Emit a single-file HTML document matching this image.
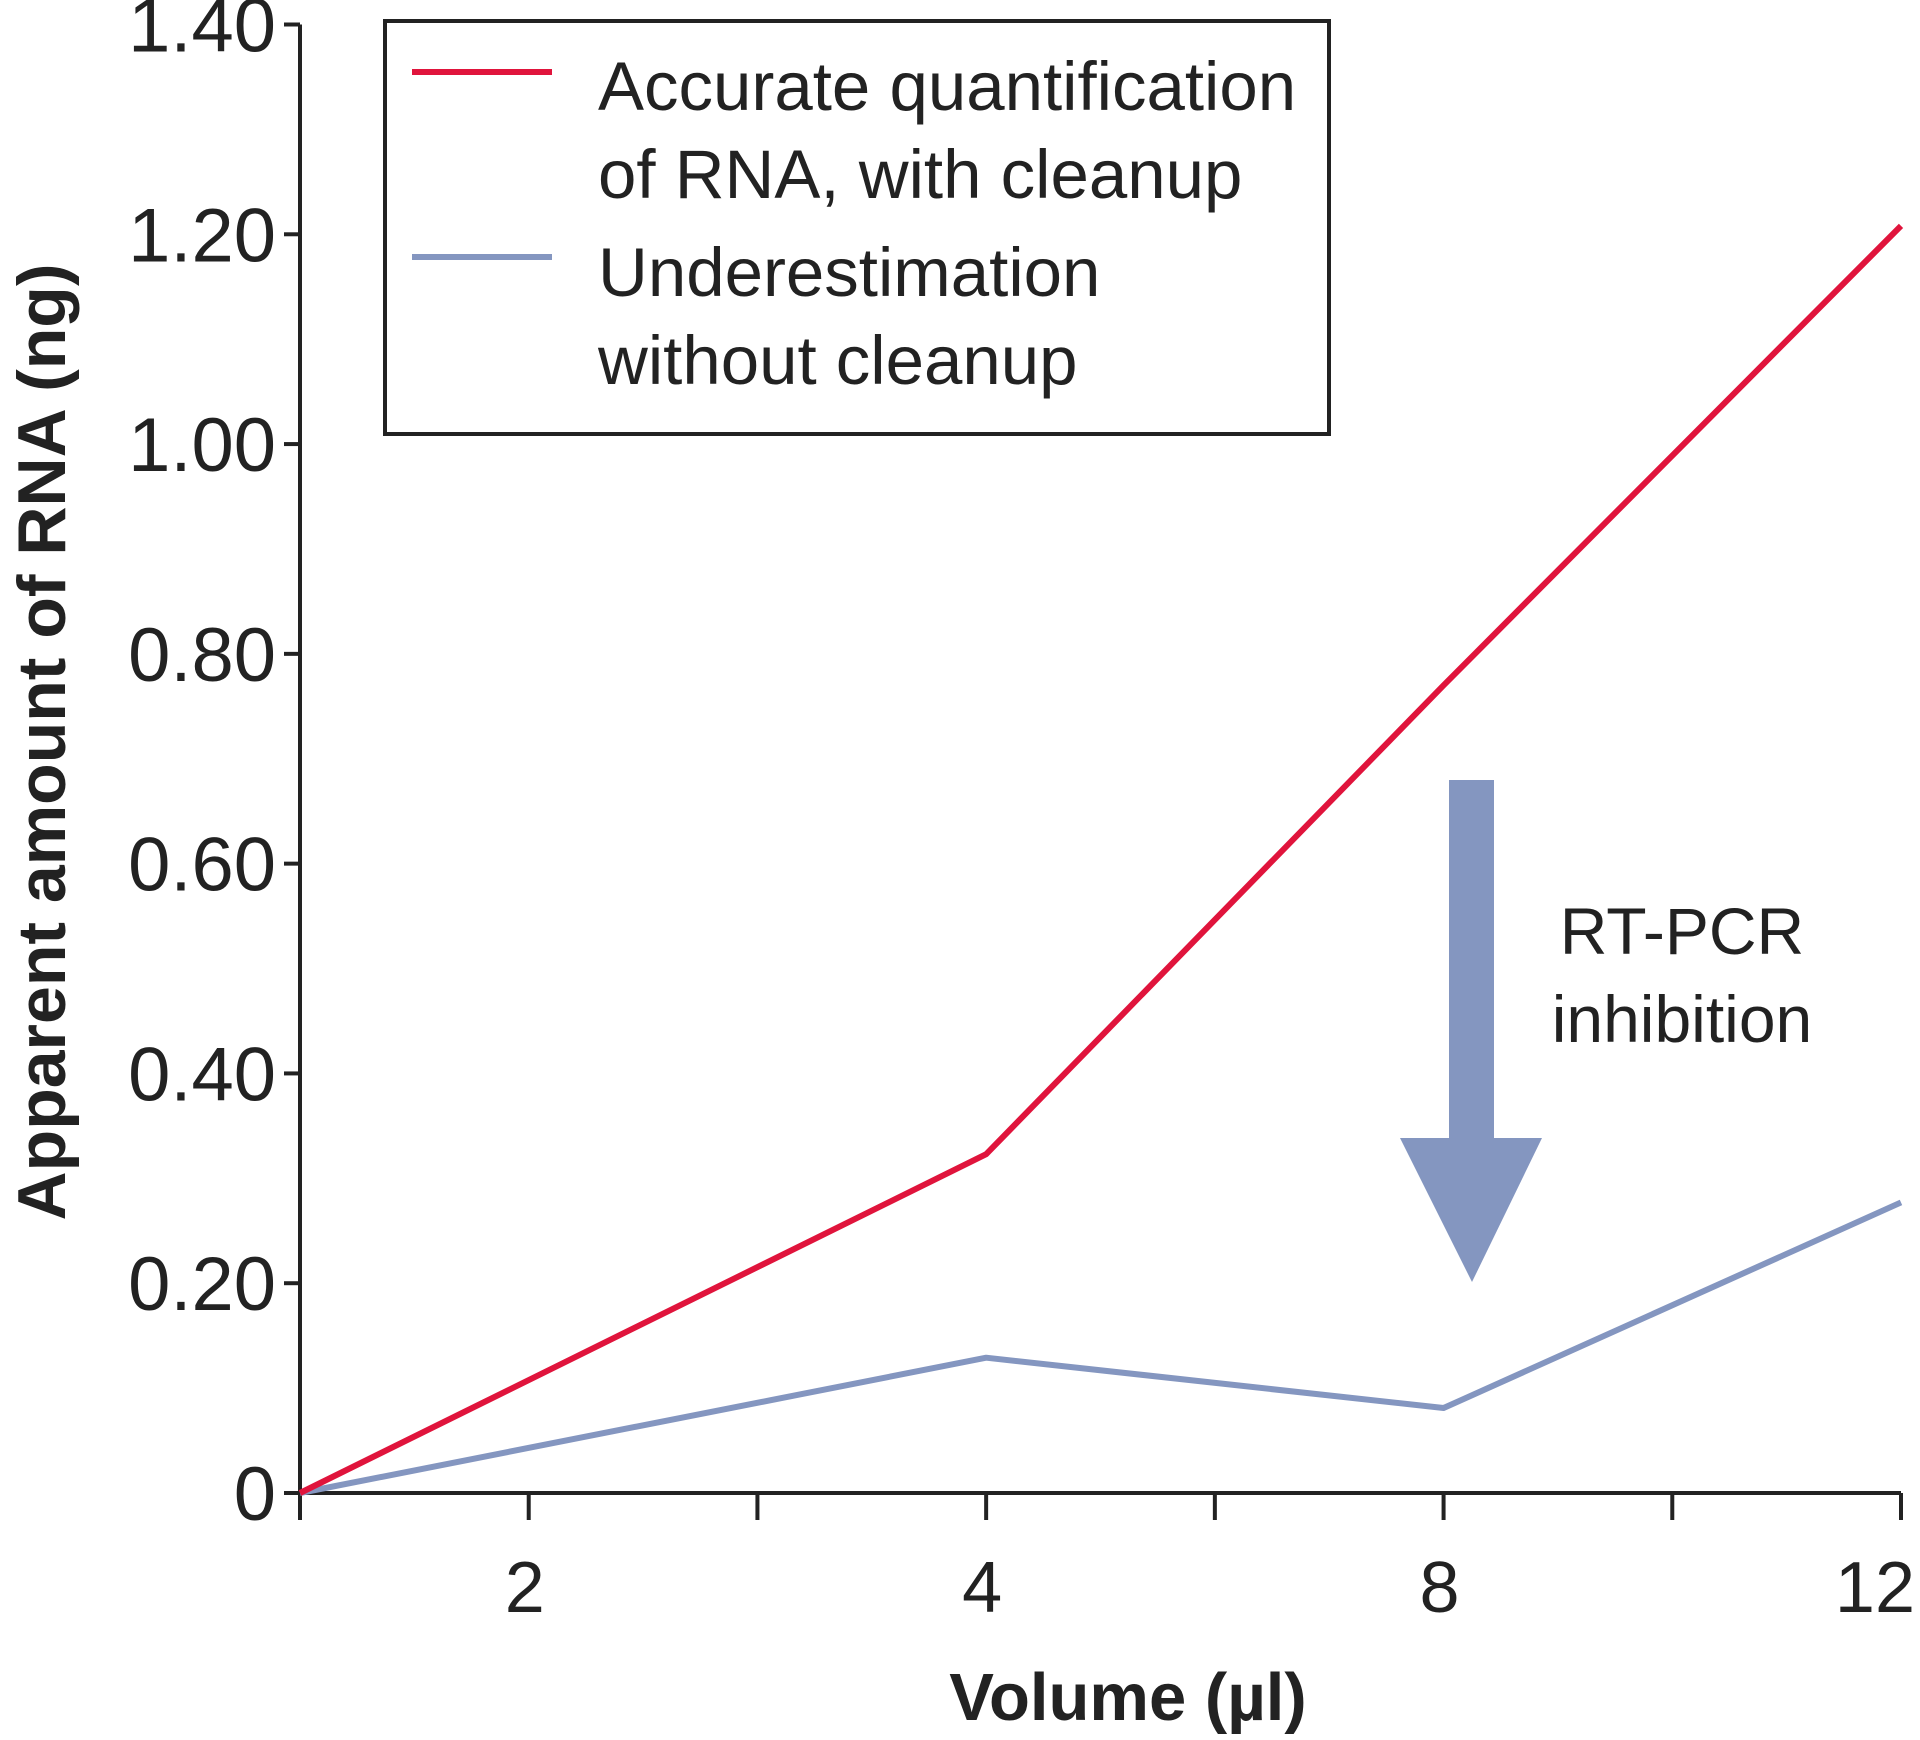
<!DOCTYPE html>
<html><head><meta charset="utf-8"><style>
body{margin:0;background:#fff;}
svg{display:block;font-family:"Liberation Sans",sans-serif;}
</style></head><body>
<svg id="chart" width="1920" height="1740" viewBox="0 0 1920 1740">
<g id="axes"></g>
<g id="series"></g>
<g>
<rect x="385" y="21" width="944" height="413" fill="#fff" stroke="#222" stroke-width="4"/>
<line x1="412" y1="72" x2="552" y2="72" stroke="#e0143c" stroke-width="6"/>
<line x1="412" y1="257" x2="552" y2="257" stroke="#8496c0" stroke-width="6"/>
<text x="598" y="110" font-size="69" fill="#222">Accurate quantification</text>
<text x="598" y="198" font-size="69" fill="#222">of RNA, with cleanup</text>
<text x="598" y="296" font-size="69" fill="#222">Underestimation</text>
<text x="598" y="384" font-size="69" fill="#222">without cleanup</text>
</g>
<g>
<rect x="1449" y="780" width="45" height="360" fill="#8496c0"/>
<polygon points="1400,1138 1542,1138 1472,1282" fill="#8496c0"/>
</g>
<text x="1682" y="954" font-size="66" text-anchor="middle" fill="#222">RT-PCR</text>
<text x="1682" y="1042" font-size="66" text-anchor="middle" fill="#222">inhibition</text>
<text transform="translate(65,742) rotate(-90)" font-size="68" font-weight="bold" text-anchor="middle" fill="#222">Apparent amount of RNA (ng)</text>
<text x="1128" y="1720" font-size="67" font-weight="bold" text-anchor="middle" fill="#222">Volume (µl)</text>
</svg>
<script>
const categories = ["0","2","3","4","6","8","10","12"];
const xLabels = ["2","4","8","12"];
const xLabelIdx = [1,3,5,7];
const yTicks = [0,0.2,0.4,0.6,0.8,1.0,1.2,1.4];
const yTickLabels = ["0","0.20","0.40","0.60","0.80","1.00","1.20","1.40"];
const pointIdx = [0,3,5,7];
const redValues = [0,0.323,0.77,1.208];
const blueValues = [0,0.129,0.081,0.277];

const NS="http://www.w3.org/2000/svg";
const x0=300,x1=1901,y0=1493,yTop=24.5;
function xs(i){return x0+i*(x1-x0)/(categories.length-1);}
function ys(v){return y0-v*(y0-yTop)/1.4;}
function mk(t,a,p){const e=document.createElementNS(NS,t);for(const k in a)e.setAttribute(k,a[k]);p.appendChild(e);return e;}
const axes=document.getElementById('axes');
let yl=mk('line',{x1:x0,y1:yTop,x2:x0,y2:y0,stroke:'#222','stroke-width':4},axes);


let xl=mk('line',{x1:x0-2,y1:y0,x2:x1,y2:y0,stroke:'#222','stroke-width':4},axes);


yTicks.forEach((v,i)=>{
  const t=mk('line',{x1:x0-16,y1:ys(v),x2:x0,y2:ys(v),stroke:'#222','stroke-width':4},axes);
  
  
  const l=mk('text',{x:x0-24,y:ys(v)+27,'font-size':76,'text-anchor':'end',fill:'#222'},axes);
  l.textContent=yTickLabels[i];
  
  
});
categories.forEach((c,i)=>{
  const t=mk('line',{x1:xs(i),y1:y0,x2:xs(i),y2:y0+27,stroke:'#222','stroke-width':4},axes);
  
  
});
xLabels.forEach((s,k)=>{
  const last = k===xLabels.length-1;
  const l=mk('text',{x:last?1915:xs(xLabelIdx[k])-4,y:1612,'font-size':72,'text-anchor':last?'end':'middle',fill:'#222'},axes);
  l.textContent=s;
  
  
});
const series=document.getElementById('series');
function line(vals,color,name){
  const pts=vals.map((v,i)=>xs(pointIdx[i])+','+ys(v)).join(' ');
  const p=mk('polyline',{points:pts,fill:'none',stroke:color,'stroke-width':6,'stroke-linejoin':'round'},series);
  
  
}
line(blueValues,'#8496c0','line-without-cleanup');
line(redValues,'#e0143c','line-with-cleanup');
</script>
</body></html>
